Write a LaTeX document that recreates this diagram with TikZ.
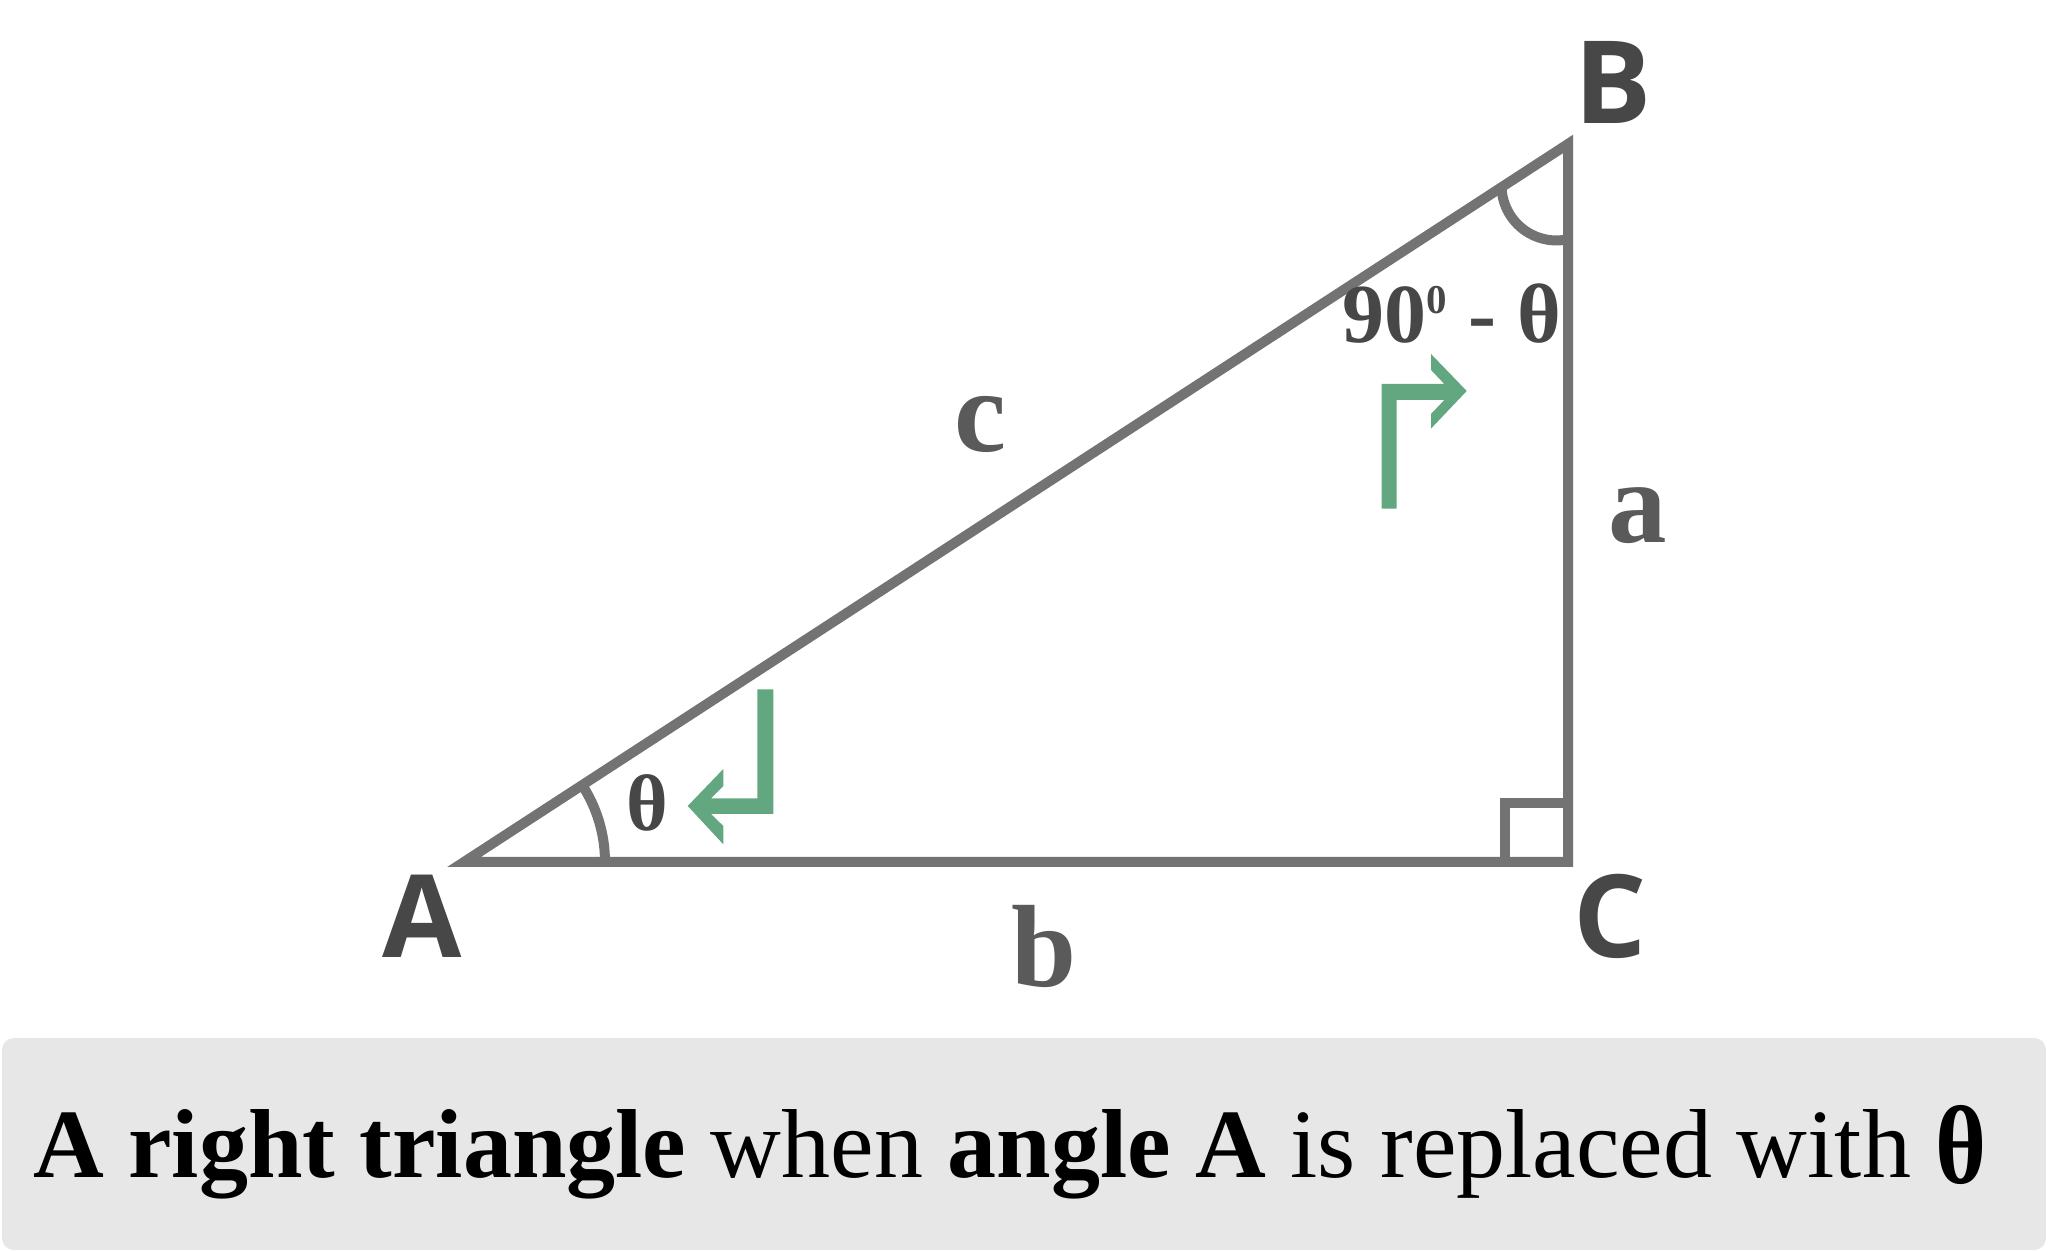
\documentclass[tikz,border=0pt]{standalone}
\usepackage{fontspec}
\setmainfont{Liberation Serif}
\newfontfamily\vertexfont{Open Sans}
\definecolor{linegray}{RGB}{115,115,115}
\definecolor{vtxgray}{RGB}{71,71,71}
\definecolor{sidegray}{RGB}{90,90,90}
\definecolor{arrowgreen}{RGB}{98,167,127}
\definecolor{capbg}{RGB}{231,231,231}
\begin{document}
\begin{tikzpicture}[x=0.5pt,y=0.5pt,
  vertexlbl/.style={font=\vertexfont\bfseries\fontsize{57.5}{60}\selectfont, text=vtxgray, inner sep=0pt, anchor=base},
  sidelbl/.style={font=\bfseries\fontsize{58.5}{60}\selectfont, text=sidegray, inner sep=0pt, anchor=base},
  anglelbl/.style={font=\bfseries\fontsize{40}{42}\selectfont, text=vtxgray, inner sep=0pt, anchor=base},
  edge/.style={draw=linegray, line width=5pt},
  turnarrow/.style={fill=arrowgreen, draw=none}]
\useasboundingbox (0,0) rectangle (2048,1251);
\fill[capbg, rounded corners=6pt] (2,1) rectangle (2046,213);
\coordinate (A) at (464,389);
\coordinate (B) at (1568,1107);
\coordinate (C) at (1568,389);
\draw[edge] (A) -- (B) -- (C) -- cycle;
\draw[edge] (1505,389) -- (1505,448) -- (1568,448);
\draw[edge] (605,389) arc[start angle=0,end angle=33.5,radius=141];
\draw[edge] (1501.5,1065.5) arc[start angle=180,end angle=282,radius=55];
% green turn arrow near A
\fill[turnarrow] (687.7,445) -- (723.3,482) -- (723.3,465) -- (711,452.7) -- (757.3,452.7)
  -- (757.3,561.7) -- (773.3,561.7) -- (773.3,437) -- (711,437) -- (723.3,425) -- (723.3,406.7) -- cycle;
% green turn arrow near B
\fill[turnarrow] (1466.7,860) -- (1431,897) -- (1431,881) -- (1444.3,867) -- (1381.7,867)
  -- (1381.7,742.4) -- (1396.7,742.4) -- (1396.7,851) -- (1444.3,851) -- (1431,837) -- (1431,822.4) -- cycle;
\node[vertexlbl] (lA) at (422,293.5) {A};
\node[vertexlbl] (lB) at (1613,1127.5) {B};
\node[vertexlbl] (lC) at (1610,293.5) {C};
\node[sidelbl] (lc) at (980,799) {c};
\node[sidelbl] (la) at (1638,708) {a};
\node[sidelbl] (lb) at (1044,264) {b};
\node[anglelbl] (lth) at (647,420) {θ};
\node[anglelbl, font=\bfseries\fontsize{42}{44}\selectfont] (lcomp) at (1452,908) {90\raisebox{14.5pt}{\fontsize{20.5}{22}\selectfont 0} - θ};
\node[font=\fontsize{49}{52}\selectfont, inner sep=0pt, anchor=base, text=black] (caption) at (1010,73)
  {\textbf{A right triangle} when \textbf{angle A} is replaced with \textbf{\raisebox{-3pt}{\scalebox{1}[1.14]{θ}}}};
\end{tikzpicture}
\end{document}
